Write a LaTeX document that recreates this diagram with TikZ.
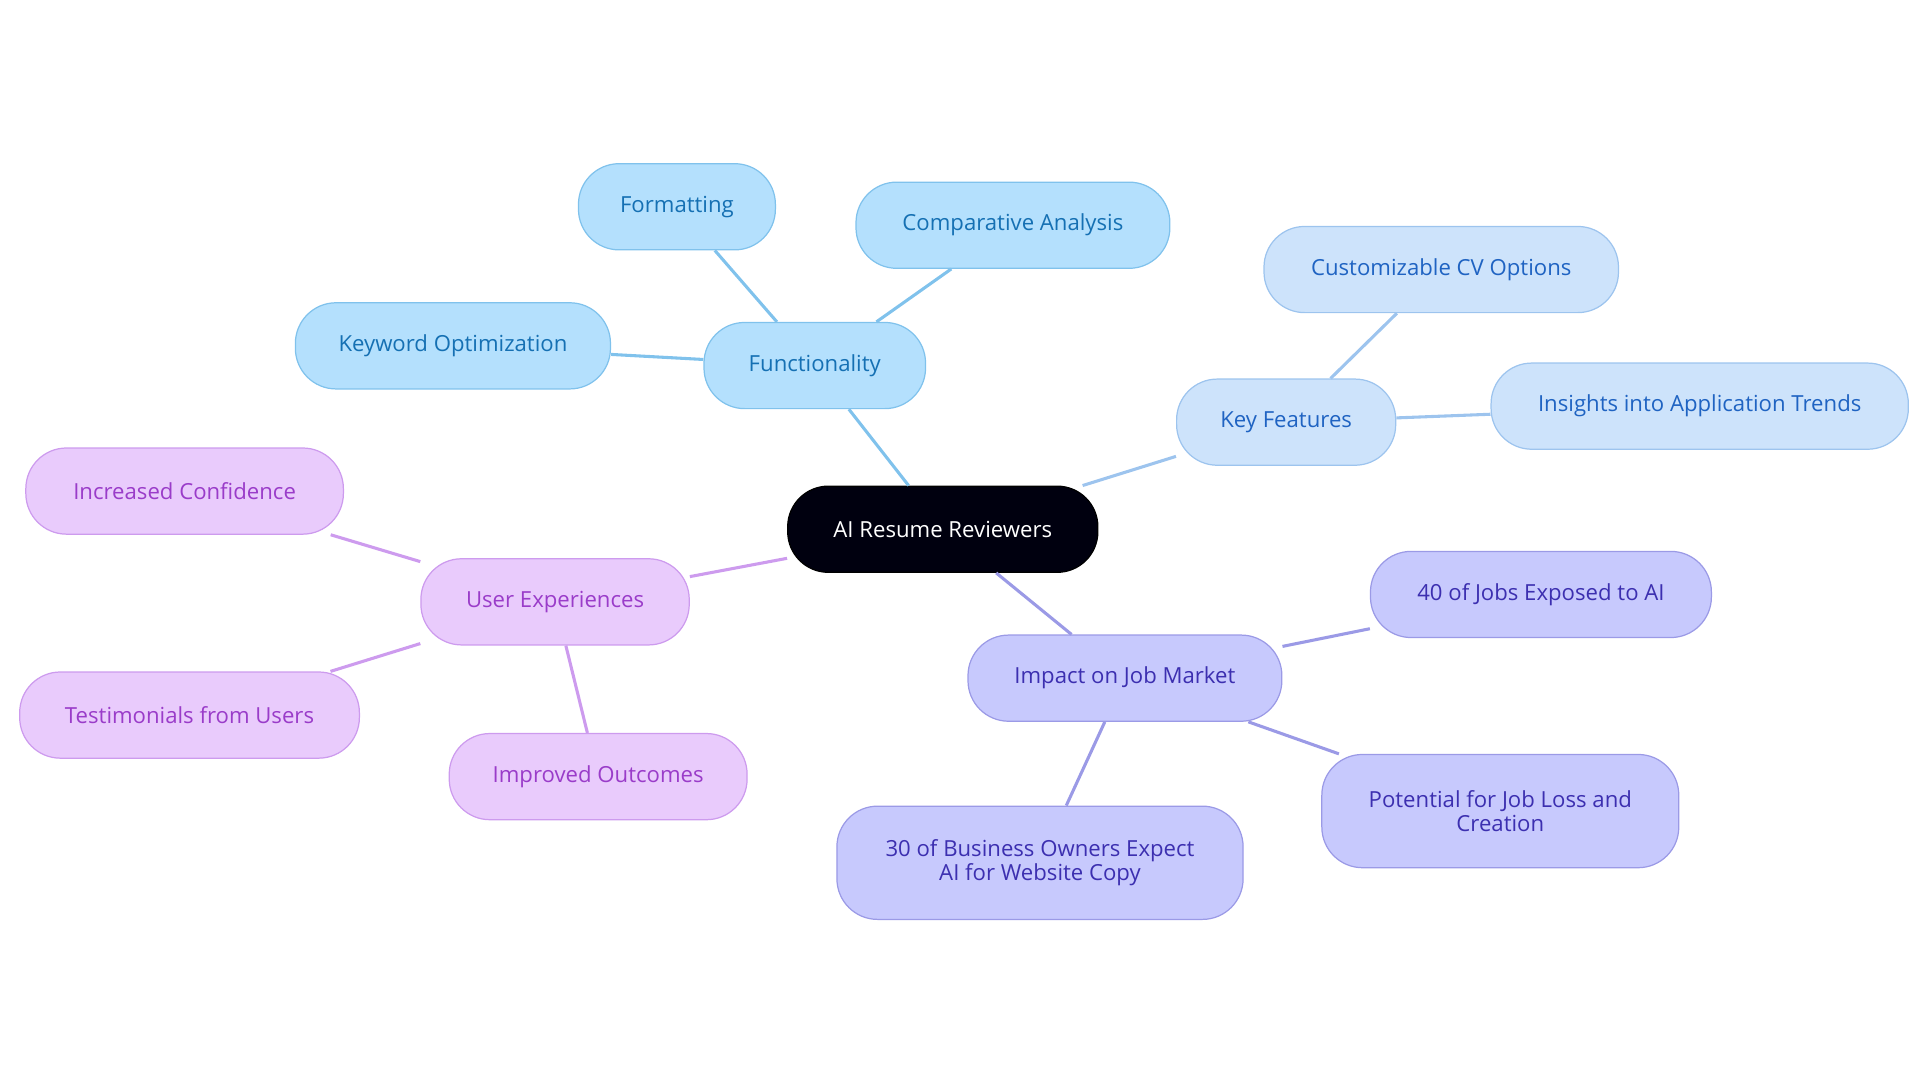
\documentclass[tikz,border=0pt]{standalone}
\usepackage{fontspec}
\setmainfont{Open Sans}
\begin{document}
\begin{tikzpicture}[x=1pt,y=-1pt,
  base/.style={rounded corners=33pt,line width=1pt,align=center,font=\fontsize{18}{19}\selectfont,inner sep=0pt},
  fb/.style={base,fill=blueF,draw=blueD,text=blueT},
  kb/.style={base,fill=kF,draw=kD,text=kT},
  pb/.style={base,fill=pF,draw=pD,text=pT},
  ib/.style={base,fill=iF,draw=iD,text=iT},
  e/.style={line width=2.5pt}]
\definecolor{blueF}{HTML}{B4E0FD}\definecolor{blueD}{HTML}{80C2EC}\definecolor{blueT}{HTML}{1570B3}
\definecolor{kF}{HTML}{CDE3FB}\definecolor{kD}{HTML}{9DC4EE}\definecolor{kT}{HTML}{1F63C2}
\definecolor{pF}{HTML}{E9CBFC}\definecolor{pD}{HTML}{CD9BEE}\definecolor{pT}{HTML}{9A3CC9}
\definecolor{iF}{HTML}{C7C9FD}\definecolor{iD}{HTML}{9B9AE6}\definecolor{iT}{HTML}{3C2FB0}
\useasboundingbox (0,0) rectangle (1560,880);
\node[base,fill=black!90!blue!60!black,draw=black,text=white,minimum width=252pt,minimum height=70pt] (root) at (766,430) {AI Resume Reviewers};
\node[fb,minimum width=180pt,minimum height=70pt] (fun) at (662,297) {Functionality};
\node[fb,minimum width=160pt,minimum height=70pt] (fmt) at (550,168) {Formatting};
\node[fb,minimum width=255pt,minimum height=70pt] (cmp) at (823,183) {Comparative Analysis};
\node[fb,minimum width=256pt,minimum height=70pt] (kw) at (368,281) {Keyword Optimization};
\node[kb,minimum width=178pt,minimum height=70pt] (kf) at (1045,343) {Key Features};
\node[kb,minimum width=288pt,minimum height=70pt] (cv) at (1171,219) {Customizable CV Options};
\node[kb,minimum width=339pt,minimum height=70pt] (ins) at (1381,330) {Insights into Application Trends};
\node[pb,minimum width=218pt,minimum height=70pt] (ux) at (451,489) {User Experiences};
\node[pb,minimum width=258pt,minimum height=70pt] (ic) at (150,399) {Increased Confidence};
\node[pb,minimum width=276pt,minimum height=70pt] (tu) at (154,581) {Testimonials from Users};
\node[pb,minimum width=242pt,minimum height=70pt] (io) at (486,631) {Improved Outcomes};
\node[ib,minimum width=255pt,minimum height=70pt] (jm) at (914,551) {Impact on Job Market};
\node[ib,minimum width=277pt,minimum height=70pt] (j40) at (1252,483) {40 of Jobs Exposed to AI};
\node[ib,minimum width=290pt,minimum height=92pt] (pj) at (1219,659) {Potential for Job Loss and\\Creation};
\node[ib,minimum width=330pt,minimum height=92pt] (b30) at (845,701) {30 of Business Owners Expect\\AI for Website Copy};
\begin{scope}[on background layer/.style={}]
\end{scope}
\begin{pgfonlayer}{main}\end{pgfonlayer}
\draw[e,blueD] (root) -- (fun);
\draw[e,blueD] (fun) -- (fmt);
\draw[e,blueD] (fun) -- (cmp);
\draw[e,blueD] (fun) -- (kw);
\draw[e,kD] (root) -- (kf);
\draw[e,kD] (kf) -- (cv);
\draw[e,kD] (kf) -- (ins);
\draw[e,pD] (root) -- (ux);
\draw[e,pD] (ux) -- (ic);
\draw[e,pD] (ux) -- (tu);
\draw[e,pD] (ux) -- (io);
\draw[e,iD] (root) -- (jm);
\draw[e,iD] (jm) -- (j40);
\draw[e,iD] (jm) -- (pj);
\draw[e,iD] (jm) -- (b30);
\end{tikzpicture}
\end{document}
